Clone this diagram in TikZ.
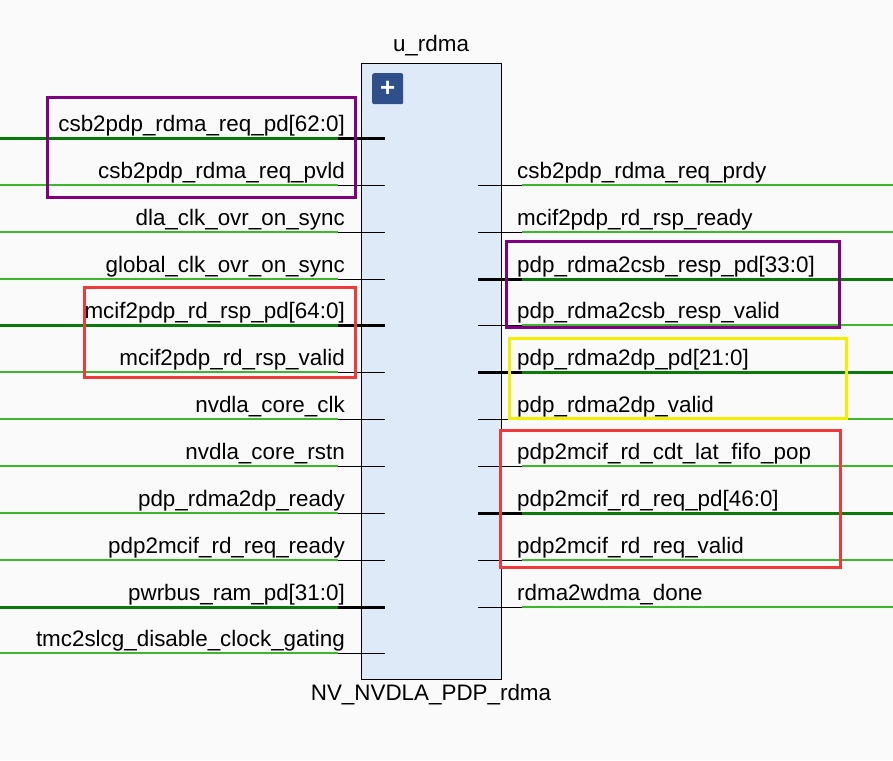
\documentclass[tikz,border=0pt]{standalone}
\usepackage{fontspec}
\setmainfont{Liberation Sans}
\definecolor{bg}{HTML}{FAFAFA}
\definecolor{boxfill}{HTML}{DFEAF8}
\definecolor{wire}{HTML}{3CB72E}
\definecolor{bus}{HTML}{0B7A0B}
\definecolor{plusc}{HTML}{2F4F8A}
\definecolor{hpurple}{HTML}{800080}
\definecolor{hred}{HTML}{F03A3A}
\definecolor{hyellow}{HTML}{F0F000}
\begin{document}
\begin{tikzpicture}[x=1pt,y=-1pt,
  lbl/.style={font=\fontsize{22.4}{22.4}\selectfont,inner sep=0pt},
  wirel/.style={wire,line width=1.2pt},
  busl/.style={bus,line width=3pt},
  stub/.style={black,line width=1pt},
  bstub/.style={black,line width=3pt},
  hl/.style={line width=3pt}]
\fill[bg] (0,0) rectangle (893,760);
\useasboundingbox (0,0) rectangle (893,760);
\node[draw=black,fill=boxfill,line width=1pt,minimum width=140pt,minimum height=616pt,inner sep=0pt,anchor=north west] (blk) at (361,63) {};
\node[lbl,anchor=base] (inst) at (431,52) {u\_rdma};
\node[lbl,anchor=base] (mod) at (431,700) {NV\_NVDLA\_PDP\_rdma};
\node[fill=plusc,rounded corners=2pt,minimum size=31pt,inner sep=0pt,anchor=north west,text=white,font=\bfseries\fontsize{26}{26}\selectfont] (plus) at (372,73) {+};
% left pins
\foreach \y/\t/\b in {138/csb2pdp\_rdma\_req\_pd[62:0]/1,185/csb2pdp\_rdma\_req\_pvld/0,232/dla\_clk\_ovr\_on\_sync/0,279/global\_clk\_ovr\_on\_sync/0,325/mcif2pdp\_rd\_rsp\_pd[64:0]/1,372/mcif2pdp\_rd\_rsp\_valid/0,419/nvdla\_core\_clk/0,466/nvdla\_core\_rstn/0,513/pdp\_rdma2dp\_ready/0,560/pdp2mcif\_rd\_req\_ready/0,607/pwrbus\_ram\_pd[31:0]/1,653/tmc2slcg\_disable\_clock\_gating/0}{
  \coordinate (le) at (0,\y); \coordinate (ls) at (338,\y); \coordinate (lp) at (385,\y);
  \ifnum\b=1 \draw[busl] (le) -- (ls); \draw[bstub] (ls) -- (lp);
  \else \draw[wirel] (le) -- (ls); \draw[stub] (ls) -- (lp); \fi
  \node[lbl,anchor=base east] at (345,\y-7) {\t};
}
% right pins
\foreach \y/\t/\b in {185/csb2pdp\_rdma\_req\_prdy/0,232/mcif2pdp\_rd\_rsp\_ready/0,279/pdp\_rdma2csb\_resp\_pd[33:0]/1,325/pdp\_rdma2csb\_resp\_valid/0,372/pdp\_rdma2dp\_pd[21:0]/1,419/pdp\_rdma2dp\_valid/0,466/pdp2mcif\_rd\_cdt\_lat\_fifo\_pop/0,513/pdp2mcif\_rd\_req\_pd[46:0]/1,560/pdp2mcif\_rd\_req\_valid/0,607/rdma2wdma\_done/0}{
  \coordinate (rp) at (478,\y); \coordinate (rs) at (522,\y); \coordinate (re) at (893,\y);
  \ifnum\b=1 \draw[busl] (rs) -- (re); \draw[bstub] (rp) -- (rs);
  \else \draw[wirel] (rs) -- (re); \draw[stub] (rp) -- (rs); \fi
  \node[lbl,anchor=base west] at (517,\y-7) {\t};
}
% highlight boxes
\draw[hl,hpurple] (47,97) rectangle (355,197);
\draw[hl,hred] (84,287) rectangle (355,377);
\draw[hl,hpurple] (506,241) rectangle (839,327);
\draw[hl,hyellow] (509,338) rectangle (846,418);
\draw[hl,hred] (500,430) rectangle (840,567);
\end{tikzpicture}
\end{document}
